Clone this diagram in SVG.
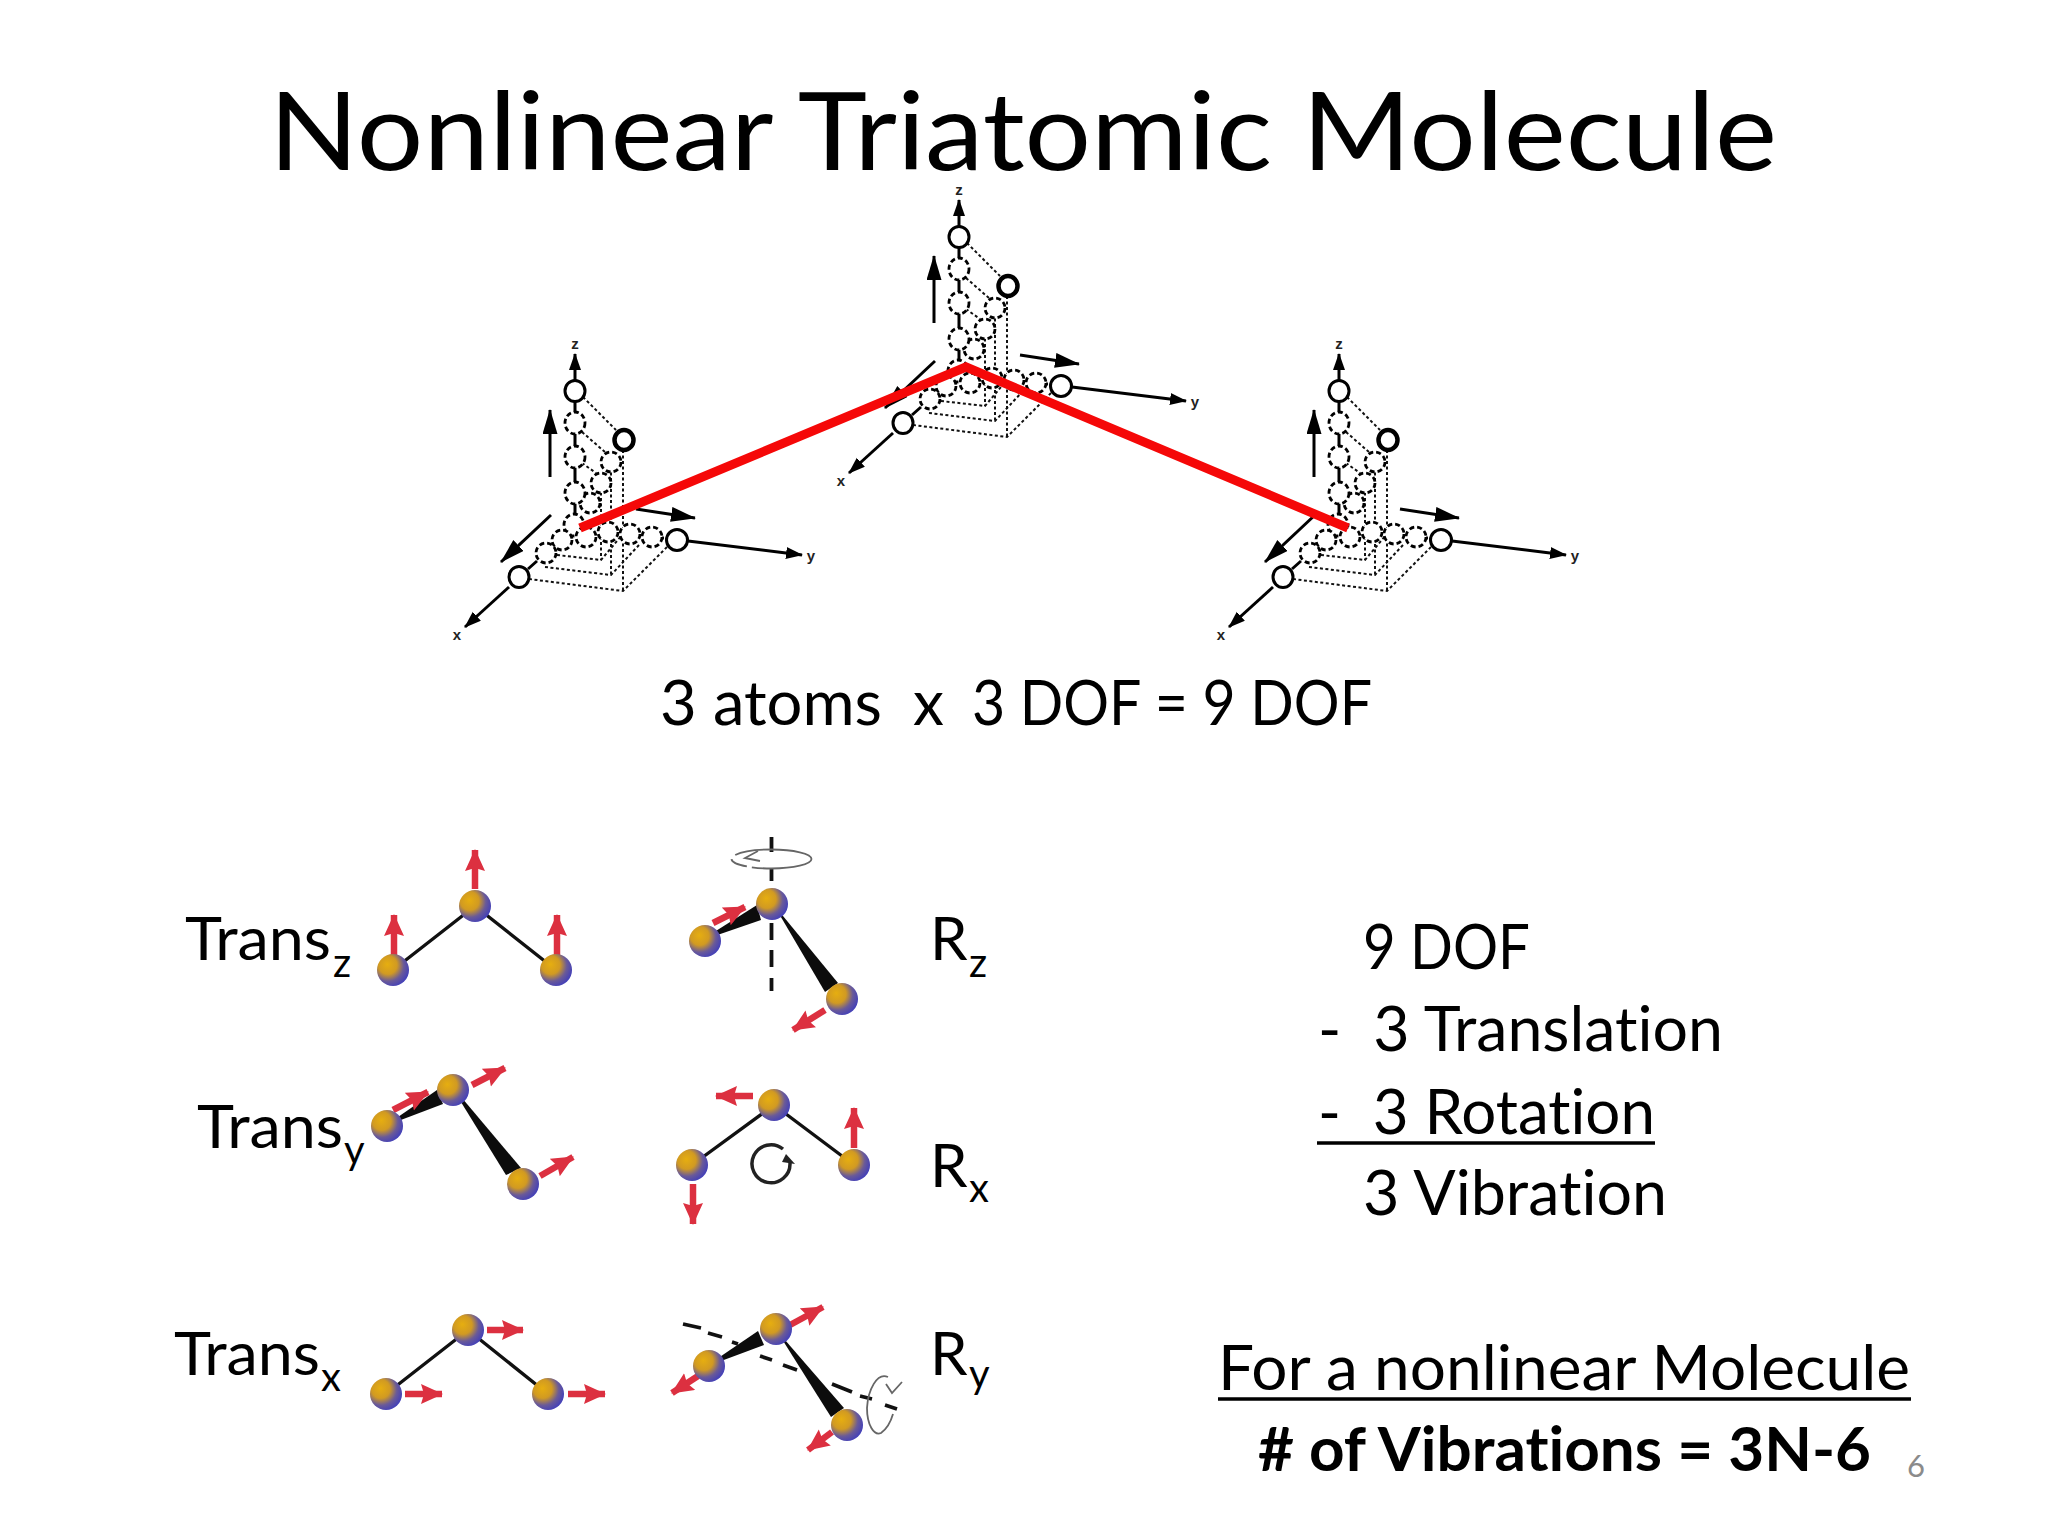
<svg xmlns="http://www.w3.org/2000/svg" width="2048" height="1536" viewBox="0 0 2048 1536">
<style>
text{font-family:"Lato","Carlito","Noto Sans",sans-serif;fill:#000;white-space:pre;font-variant-ligatures:none}
.t{font-size:60px}.s{font-size:40px}
.ax{font-family:"Liberation Sans",sans-serif;font-size:15px;font-weight:bold;text-anchor:middle;fill:#222}
.sol{fill:#fff;stroke:#000;stroke-width:3}
.thk{fill:#fff;stroke:#000;stroke-width:4.500}
.dsh{fill:#fff;stroke:#000;stroke-width:2.800;stroke-dasharray:5 3}
.dot{fill:none;stroke:#111;stroke-width:2;stroke-dasharray:3 2.500}
.axl{fill:none;stroke:#000;stroke-width:3}
.mov{fill:none;stroke:#000;stroke-width:3}
.bond{fill:none;stroke:#111;stroke-width:3.400}
.red{fill:none;stroke:#dc3040;stroke-width:6.500}
.rot{fill:none;stroke:#666;stroke-width:1.800}
.dash{fill:none;stroke:#111;stroke-width:3.800}
.atom{fill:url(#ball)}
</style>
<defs>
<radialGradient id="ball" cx="0.36" cy="0.38" r="0.72" fx="0.32" fy="0.32">
<stop offset="0" stop-color="#e6ae10"/><stop offset="0.4" stop-color="#d19a22"/><stop offset="0.68" stop-color="#6a5a98"/><stop offset="1" stop-color="#3a3ac0"/>
</radialGradient>
<marker id="ra" markerUnits="userSpaceOnUse" markerWidth="24" markerHeight="22" refX="21" refY="10" orient="auto"><path d="M0 0L22 10L0 20L3 10Z" fill="#dc3040"/></marker>
<marker id="ka" markerUnits="userSpaceOnUse" markerWidth="18" markerHeight="14" refX="16" refY="6" orient="auto"><path d="M0 0L17 6L0 12Z" fill="#000"/></marker>
<marker id="kb" markerUnits="userSpaceOnUse" markerWidth="26" markerHeight="16" refX="24" refY="7.500" orient="auto"><path d="M0 0L25 7.500L0 15Z" fill="#000"/></marker>
<g id="frame">
<path class="dot" d="M583 397L616 430M582 432L606 453M582 463L596 473M529 579L623 591L667 547M545 567L611 575L639 545M557 555L601 560L622 535M623 450V591M611 467V575M601 487V560"/>
<path class="axl" d="M575 380V354" marker-end="url(#ka)"/>
<path class="axl" d="M509 587L465 627" marker-end="url(#ka)"/>
<path class="axl" d="M688 541L802 555" marker-end="url(#ka)"/>
<path class="axl" d="M575 401V413M575 434V446M575 467V482M575 503V515M528 569L537 561M554 546L556 544M662 538L664 538"/>
<ellipse class="dsh" cx="590" cy="503" rx="10" ry="10"/>
<ellipse class="dsh" cx="601" cy="483" rx="10" ry="10"/>
<ellipse class="dsh" cx="611" cy="462" rx="10" ry="10"/>
<ellipse class="dsh" cx="575" cy="423" rx="10" ry="11"/>
<ellipse class="dsh" cx="575" cy="457" rx="10" ry="11"/>
<ellipse class="dsh" cx="575" cy="493" rx="10" ry="11"/>
<ellipse class="dsh" cx="574" cy="525" rx="10" ry="11"/>
<ellipse class="dsh" cx="562" cy="540" rx="10" ry="10"/>
<ellipse class="dsh" cx="546" cy="553" rx="10" ry="10"/>
<ellipse class="dsh" cx="586" cy="537" rx="10" ry="10"/>
<ellipse class="dsh" cx="608" cy="532" rx="10" ry="10"/>
<ellipse class="dsh" cx="630" cy="534" rx="10" ry="10"/>
<ellipse class="dsh" cx="652" cy="537" rx="10" ry="10"/>
<ellipse class="sol" cx="575" cy="391" rx="10" ry="10.500"/>
<ellipse class="thk" cx="624" cy="440" rx="9.500" ry="10"/>
<ellipse class="sol" cx="519" cy="577" rx="10" ry="10.500"/>
<ellipse class="sol" cx="677" cy="540" rx="10.500" ry="10.500"/>
<path class="mov" d="M550 477V410" marker-end="url(#kb)"/>
<path class="mov" d="M551 515L501 562" marker-end="url(#kb)"/>
<path class="mov" d="M636 509L695 518" marker-end="url(#kb)"/>
</g>
</defs>
<rect width="2048" height="1536" fill="#fff"/>

<text id="title" x="269" y="170" font-size="109" textLength="1508" lengthAdjust="spacingAndGlyphs">Nonlinear Triatomic Molecule</text>

<g id="frame-left"><use href="#frame"/><text class="ax" x="575" y="349">z</text><text class="ax" x="457" y="640">x</text><text class="ax" x="811" y="561">y</text></g>
<g id="frame-mid" transform="translate(384,-154)"><use href="#frame"/><text class="ax" x="575" y="349">z</text><text class="ax" x="457" y="640">x</text><text class="ax" x="811" y="561">y</text></g>
<g id="frame-right" transform="translate(764,0)"><use href="#frame"/><text class="ax" x="575" y="349">z</text><text class="ax" x="457" y="640">x</text><text class="ax" x="811" y="561">y</text></g>

<g id="connectors">
<polyline id="red-bonds" points="580,528 966,367 1348,528" fill="none" stroke="#f50808" stroke-width="9"/>
<g id="bonds">
<path class="bond" d="M475 906L393 970M475 906L556 970"/>
<path class="bond" d="M468 1330L386 1394M468 1330L548 1394"/>
<path class="bond" d="M774 1105L692 1165M774 1105L854 1165"/>
<path d="M385 1126L437 1090L443 1104Z" fill="#0c0c0c"/>
<path d="M456 1094L462 1098L521 1168L506 1175Z" fill="#0c0c0c"/>
<path d="M700 941L757 905L761 920Z" fill="#0c0c0c"/>
<path d="M778 912L783 916L838 983L825 992Z" fill="#0c0c0c"/>
<path d="M705 1367L758 1331L764 1345Z" fill="#0c0c0c"/>
<path d="M780 1336L785 1340L844 1408L831 1417Z" fill="#0c0c0c"/>
</g>
<g id="axes">
<path class="dash" d="M771.500 837V852M771.500 869V881M771.500 923V940M771.500 950V967M771.500 978V991"/>
<ellipse class="rot" cx="771.500" cy="859" rx="40" ry="9.500" stroke-dasharray="62 5 18 6 150 8"/>
<path class="rot" d="M758 851L745 858L760 861"/>
<path class="dash" d="M683 1324L701 1328M708 1333L722 1337M732 1342L738 1344M760 1356L772 1360M783 1365L797 1370M832 1384L852 1392M860 1396L872 1399M885 1405L897 1409"/>
<path class="rot" d="M888 1377C877 1372 868 1390 867 1408C867 1425 874 1436 881 1433C888 1428 891 1421 893 1414M886 1384L892 1393L902 1382"/>
<path d="M790 1163A19 19 0 1 1 783 1149" fill="none" stroke="#222" stroke-width="3.500"/>
<path d="M782 1162L795 1164L786 1154Z" fill="#222"/>
</g>
<g id="arrows">
<path class="red" d="M475 889V850" marker-end="url(#ra)"/>
<path class="red" d="M394 955V915" marker-end="url(#ra)"/>
<path class="red" d="M557 955V915" marker-end="url(#ra)"/>
<path class="red" d="M393 1110L428 1092" marker-end="url(#ra)"/>
<path class="red" d="M472 1085L505 1068" marker-end="url(#ra)"/>
<path class="red" d="M540 1176L573 1157" marker-end="url(#ra)"/>
<path class="red" d="M487 1330H523" marker-end="url(#ra)"/>
<path class="red" d="M405 1394H442" marker-end="url(#ra)"/>
<path class="red" d="M568 1394H605" marker-end="url(#ra)"/>
<path class="red" d="M713 923L745 907" marker-end="url(#ra)"/>
<path class="red" d="M825 1010L793 1030" marker-end="url(#ra)"/>
<path class="red" d="M753 1096H716" marker-end="url(#ra)"/>
<path class="red" d="M854 1148V1108" marker-end="url(#ra)"/>
<path class="red" d="M693 1184V1224" marker-end="url(#ra)"/>
<path class="red" d="M790 1325L823 1307" marker-end="url(#ra)"/>
<path class="red" d="M698 1376L672 1393" marker-end="url(#ra)"/>
<path class="red" d="M832 1432L808 1450" marker-end="url(#ra)"/>
</g>
</g>

<g id="molecule-trans-z"><circle class="atom" cx="475" cy="906" r="16"/><circle class="atom" cx="393" cy="970" r="16"/><circle class="atom" cx="556" cy="970" r="16"/></g>
<g id="molecule-trans-y"><circle class="atom" cx="453" cy="1090" r="16"/><circle class="atom" cx="387" cy="1126" r="16"/><circle class="atom" cx="523" cy="1184" r="16"/></g>
<g id="molecule-trans-x"><circle class="atom" cx="468" cy="1330" r="16"/><circle class="atom" cx="386" cy="1394" r="16"/><circle class="atom" cx="548" cy="1394" r="16"/></g>
<g id="molecule-rz"><circle class="atom" cx="772" cy="904" r="16"/><circle class="atom" cx="705" cy="941" r="16"/><circle class="atom" cx="842" cy="999" r="16"/></g>
<g id="molecule-rx"><circle class="atom" cx="774" cy="1105" r="16"/><circle class="atom" cx="692" cy="1165" r="16"/><circle class="atom" cx="854" cy="1165" r="16"/></g>
<g id="molecule-ry"><circle class="atom" cx="776" cy="1329" r="16"/><circle class="atom" cx="709" cy="1366" r="16"/><circle class="atom" cx="847" cy="1425" r="16"/></g>

<g id="labels">
<text class="t" x="185" y="960" textLength="146" lengthAdjust="spacingAndGlyphs">Trans</text><text class="s" x="333" y="977">z</text>
<text class="t" x="197" y="1148" textLength="146" lengthAdjust="spacingAndGlyphs">Trans</text><text class="s" x="344" y="1164">y</text>
<text class="t" x="174" y="1375" textLength="146" lengthAdjust="spacingAndGlyphs">Trans</text><text class="s" x="321" y="1391">x</text>
<text class="t" x="930" y="960">R</text><text class="s" x="969" y="977">z</text>
<text class="t" x="930" y="1187">R</text><text class="s" x="969" y="1202">x</text>
<text class="t" x="930" y="1375">R</text><text class="s" x="969" y="1388">y</text>
</g>

<g id="equation" font-size="62">
<text x="660" y="725"><tspan textLength="222" lengthAdjust="spacingAndGlyphs">3 atoms</tspan>  <tspan x="913">x</tspan>  <tspan x="972" textLength="400" lengthAdjust="spacingAndGlyphs">3 DOF = 9 DOF</tspan></text>
<text x="1363" y="969" textLength="167" lengthAdjust="spacingAndGlyphs">9 DOF</text>
<text x="1318" y="1051"  textLength="405" lengthAdjust="spacingAndGlyphs">-  3 Translation</text>
<text x="1318" y="1134" textLength="337" lengthAdjust="spacingAndGlyphs">-  3 Rotation</text>
<path d="M1317 1143H1655" stroke="#000" stroke-width="3.500"/>
<text x="1363" y="1215" textLength="304" lengthAdjust="spacingAndGlyphs">3 Vibration</text>
<text x="1218" y="1390" textLength="692" lengthAdjust="spacingAndGlyphs">For a nonlinear Molecule</text>
<path d="M1218 1399H1911" stroke="#000" stroke-width="3.500"/>
<text x="1258" y="1471" font-weight="bold" textLength="613" lengthAdjust="spacingAndGlyphs"># of Vibrations = 3N-6</text>
</g>
<text id="page-number" x="1907" y="1477" font-size="31" style="fill:#8b8b8b">6</text>
</svg>
